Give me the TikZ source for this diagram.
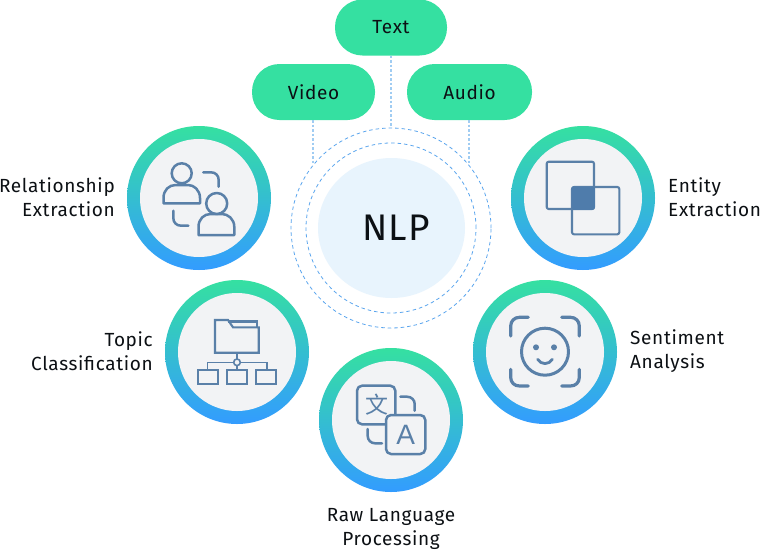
\documentclass[tikz,border=0pt]{standalone}
\usepackage{fontspec}
\usetikzlibrary{shapes.geometric}
\setmainfont[LetterSpace=3.5]{Fira Sans}
\newfontfamily\cjkicon{Noto Sans CJK SC}
\newfontfamily\latinicon{Liberation Sans}
\definecolor{mint}{HTML}{35E0A1}
\definecolor{skyend}{HTML}{339CFF}
\definecolor{plate}{HTML}{F2F3F5}
\definecolor{iconblue}{HTML}{5A80A8}
\definecolor{iconfill}{HTML}{4F7CAB}
\definecolor{coreblue}{HTML}{E8F4FD}
\definecolor{dashring}{HTML}{5AA5EE}
\definecolor{dashline}{HTML}{A0CCF2}
\definecolor{inkdark}{HTML}{0C1014}
\tikzset{
  ringdisc/.style={circle,minimum size=144pt,inner sep=0pt,top color=mint,bottom color=skyend,draw=none},
  platedisc/.style={circle,minimum size=118pt,inner sep=0pt,fill=plate,draw=none},
  pill/.style={rounded corners=27.5pt,fill=mint,draw=none,minimum height=56pt,inner sep=0pt,text=inkdark,font=\fontsize{19}{24}\selectfont},
  dashcircle/.style={circle,inner sep=0pt,draw=dashring,line width=.8pt,dash pattern=on 3.5pt off 3pt},
  feed/.style={draw=dashline,line width=1.5pt,dash pattern=on 2.5pt off 2pt},
  caption/.style={inner sep=0pt,text=inkdark,font=\fontsize{19}{24}\selectfont},
  icon/.style={draw=iconblue,line width=2.5pt,line cap=round,line join=round,fill=none},
  iconthin/.style={draw=iconblue,line width=2.1pt,line join=miter,fill=none},
}
\begin{document}
\begin{tikzpicture}[x=1pt,y=-1pt]
\useasboundingbox (0,0) rectangle (763,552);
\fill[white] (0,0) rectangle (763,552);
% centre
\node[dashcircle,minimum size=200pt] (outerdash) at (391,228) {};
\node[dashcircle,minimum size=170pt] (innerdash) at (391,228) {};
\node[ellipse,fill=coreblue,minimum width=147pt,minimum height=140pt,inner sep=0pt] (core) at (391.5,228) {};
\node[inner sep=0pt,text=inkdark,font=\fontsize{37}{40}\selectfont] (nlp) at (396,228) {NLP};
% pills
\node[pill,minimum width=112pt] (textpill) at (391,27.5) {Text};
\node[pill,minimum width=123pt] (videopill) at (313.5,92) {Video};
\node[pill,minimum width=125pt] (audiopill) at (469.5,92) {Audio};
\coordinate (videoend) at (313,163);
\coordinate (audioend) at (469,163);
\draw[feed] (textpill.south) -- (outerdash.north);
\draw[feed] (videopill.south -| videoend) -- (videoend);
\draw[feed] (audiopill.south -| audioend) -- (audioend);
% discs
\node[ringdisc] (ringA) at (199,198) {};
\node[platedisc] (plateA) at (199,198) {};
\node[ringdisc] (ringB) at (583,198) {};
\node[platedisc] (plateB) at (583,198) {};
\node[ringdisc] (ringC) at (237,352) {};
\node[platedisc] (plateC) at (237,352) {};
\node[ringdisc] (ringD) at (545,352) {};
\node[platedisc] (plateD) at (545,352) {};
\node[ringdisc] (ringE) at (391,420) {};
\node[platedisc] (plateE) at (391,420) {};
% captions
\node[caption,align=right,anchor=east] (capA) at (115,197.5) {Relationship\\Extraction};
\node[caption,align=left,anchor=west] (capB) at (668,197.5) {Entity\\Extraction};
\node[caption,align=right,anchor=east] (capC) at (153,351.5) {Topic\\Classification};
\node[caption,align=left,anchor=west] (capD) at (630,351.5) {Sentiment\\Analysis};
\node[caption,align=center] (capE) at (391,529) {Raw Language\\Processing};
% icon A: relationship
\draw[icon] (181.7,173.3) circle (10);
\draw[icon] (163.5,203.3) -- (200,203.3) -- (200,198) .. controls (200,190) and (194,185) .. (188,185) -- (175.5,185) .. controls (169,185) and (163.5,190) .. (163.5,198) -- cycle;
\draw[icon,fill=plate] (198.5,235) -- (234.3,235) -- (234.3,227) .. controls (234.3,219) and (228,214) .. (222,214) -- (210.5,214) .. controls (204,214) and (198.5,219) .. (198.5,227) -- cycle;
\draw[icon,fill=plate] (216.7,203.5) circle (10.5);
\draw[icon] (203.3,172.3) -- (211,172.3) .. controls (215.5,172.3) and (218.7,175.5) .. (218.7,180) -- (218.7,186.7);
\draw[icon] (173.3,210.7) -- (173.3,218) .. controls (173.3,222.5) and (176.5,225.7) .. (181,225.7) -- (188.3,225.7);
% icon B: entity
\draw[icon,line width=2.1pt,rounded corners=2pt] (546.7,161.7) rectangle (594,209);
\draw[icon,line width=2.1pt,rounded corners=2pt] (572,187) rectangle (619.3,234.3);
\fill[iconfill,rounded corners=2pt] (571.5,186.5) rectangle (594.8,209.8);
% icon C: topic
\draw[iconthin] (215,352.7) -- (215,320) -- (228,320) -- (233,327.3) -- (258.7,327.3) -- (258.7,352.7) -- cycle;
\draw[iconthin] (228,321.5) -- (256.7,321.5) -- (256.7,327.3);
\draw[iconthin] (237,352.7) -- (237,359);
\draw[iconthin,line width=1.6pt] (207.3,370) -- (207.3,362.3) -- (233.7,362.3);
\draw[iconthin,line width=1.6pt] (240.3,362.3) -- (266.7,362.3) -- (266.7,370);
\draw[iconthin,line width=1.6pt] (237,365.6) -- (237,370);
\draw[iconthin,line width=1.6pt] (237,362.3) circle (3.3);
\draw[iconthin] (198.3,370) rectangle (218.3,384);
\draw[iconthin] (227,370) rectangle (246.7,384);
\draw[iconthin] (255.7,370) rectangle (275.7,384);
% icon D: sentiment
\draw[icon,line width=3pt] (545,351.7) circle (23.5);
\fill[iconblue] (536,347.3) circle (3);
\fill[iconblue] (554,347.3) circle (3);
\draw[icon,line width=2.8pt] (537.7,359.3) .. controls (541,365) and (549,365) .. (552.3,359.3);
\draw[icon,line width=3.2pt] (510.7,336) -- (510.7,326) .. controls (510.7,321) and (514.5,317.3) .. (519.5,317.3) -- (528.3,317.3);
\draw[icon,line width=3.2pt] (579.3,336) -- (579.3,326) .. controls (579.3,321) and (575.5,317.3) .. (570.5,317.3) -- (561.7,317.3);
\draw[icon,line width=3.2pt] (510.7,369.3) -- (510.7,377.5) .. controls (510.7,382.5) and (514.5,386) .. (519.5,386) -- (528.3,386);
\draw[icon,line width=3.2pt] (579.3,369.3) -- (579.3,377.5) .. controls (579.3,382.5) and (575.5,386) .. (570.5,386) -- (561.7,386);
% icon E: language
\draw[icon,rounded corners=5pt] (357,385.7) rectangle (395.3,424.3);
\draw[icon,rounded corners=5pt,fill=plate] (386,415) rectangle (425.3,454);
\node[inner sep=0pt,text=iconblue,font=\cjkicon\fontsize{23}{23}\selectfont] (glyphwen) at (376.5,405) {文};
\node[inner sep=0pt,text=iconblue,font=\latinicon\fontsize{28}{28}\selectfont] (glypha) at (405.7,435) {A};
\draw[icon] (400.3,396.7) -- (407,396.7) .. controls (411.5,396.7) and (414.7,400) .. (414.7,404) -- (414.7,410.7);
\draw[icon] (367.7,429) -- (367.7,436) .. controls (367.7,440) and (371,443.3) .. (375,443.3) -- (382,443.3);
\end{tikzpicture}
\end{document}
